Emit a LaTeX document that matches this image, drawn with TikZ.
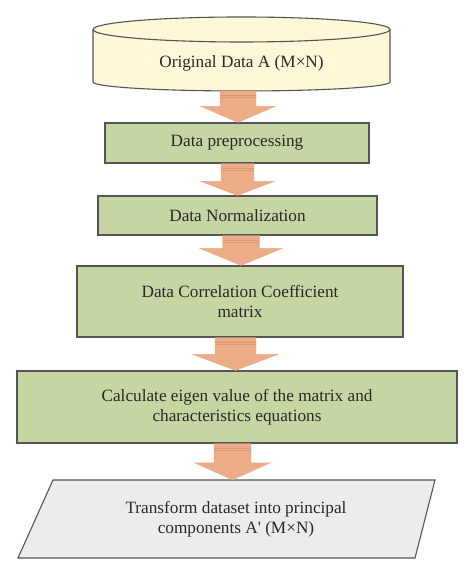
\documentclass[tikz,border=0pt]{standalone}
\usepackage{fontspec}
\setmainfont{Liberation Serif}
\usetikzlibrary{calc}
\definecolor{arrfill}{RGB}{236,172,136}
\definecolor{arrline}{RGB}{224,152,112}
\definecolor{arrlight}{RGB}{246,204,178}
\definecolor{boxfill}{RGB}{197,214,163}
\definecolor{cylfill}{RGB}{254,247,216}
\definecolor{parafill}{RGB}{236,236,236}
\definecolor{edge}{RGB}{85,85,85}
\definecolor{txt}{RGB}{40,40,40}
\tikzset{
  stepbox/.style={draw=edge, fill=boxfill, line width=1.1bp, inner sep=0pt,
    align=center, text=txt, font=\fontsize{17.3}{20}\selectfont},
  plainlabel/.style={inner sep=0pt, align=center, text=txt,
    font=\fontsize{17.3}{20}\selectfont},
  barrowsty/.style={fill=arrfill, draw=arrfill, line width=0.4bp, line join=miter},
}
% block arrow: from node #1 to node #2, x centre #3, shaft half width #4,
% head half width #5, head length #6
\newcommand\blockarrow[6]{%
  \path[barrowsty] let \p1=(#1.south), \p2=(#2.north) in
    ({(#3-#4)*1bp},\y1) -- ({(#3-#4)*1bp},{\y2+#6*1bp}) --
    ({(#3-#5)*1bp},{\y2+#6*1bp}) -- ({#3*1bp},\y2) --
    ({(#3+#5)*1bp},{\y2+#6*1bp}) -- ({(#3+#4)*1bp},{\y2+#6*1bp}) --
    ({(#3+#4)*1bp},\y1) -- cycle;
  \path let \p1=(#1.south) in
    [draw=arrlight, line width=1.4bp] ({(#3-#4+0.3)*1bp},{\y1-4.5bp}) -- ({(#3+#4-0.3)*1bp},{\y1-4.5bp})
    [draw=arrline, line width=0.7bp] ({(#3-#4+0.3)*1bp},{\y1-6.5bp}) -- ({(#3+#4-0.3)*1bp},{\y1-6.5bp});
}
\begin{document}
\begin{tikzpicture}[x=1bp,y=1bp]
\useasboundingbox (0,0) rectangle (474,575);
% cylinder
\path[fill=cylfill, draw=edge, line width=1.1bp]
  (93,545.5) -- (93,493) arc[start angle=180, end angle=360, x radius=148.5, y radius=9]
  -- (390,545.5);
\path[fill=cylfill, draw=edge, line width=1.1bp]
  (241.5,545.5) ellipse[x radius=148.5, y radius=12.5];
\node[plainlabel, minimum width=297bp, minimum height=56bp] (orig) at (241.5,512)
  {Original Data A (M×N)};
% steps
\node[stepbox, minimum width=264bp, minimum height=40bp] (prep) at (237,432)
  {Data preprocessing};
\node[stepbox, minimum width=279bp, minimum height=39bp] (norm) at (237.5,359.5)
  {Data Normalization};
\node[stepbox, minimum width=326bp, minimum height=71bp] (corr) at (240,273.5)
  {Data Correlation Coefficient\\matrix};
\node[stepbox, minimum width=440bp, minimum height=72bp] (eig) at (237,168)
  {Calculate eigen value of the matrix and\\characteristics equations};
% output parallelogram
\path[fill=parafill, draw=edge, line width=1.1bp]
  (53,95) -- (435,95) -- (415,17) -- (18,17) -- cycle;
\node[plainlabel, minimum width=300bp, minimum height=78bp] (out) at (236,56)
  {Transform dataset into principal\\components A\textquotesingle{} (M×N)};
% arrows
\blockarrow{orig}{prep}{238}{18}{37}{16}
\blockarrow{prep}{norm}{237.5}{16.5}{36.5}{14}
\blockarrow{norm}{corr}{241}{18.5}{41}{17}
\blockarrow{corr}{eig}{235.5}{20.5}{42.5}{16}
\blockarrow{eig}{out}{232.5}{18.5}{38}{17}
\end{tikzpicture}
\end{document}
